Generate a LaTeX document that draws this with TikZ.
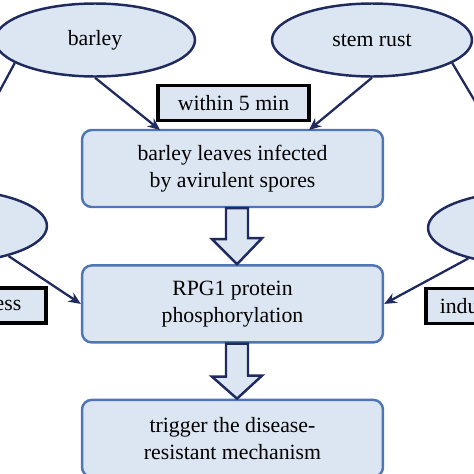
\documentclass[tikz,border=0pt]{standalone}
\usepackage{fontspec}
\setmainfont{Liberation Serif}
\usetikzlibrary{arrows.meta,positioning,shapes.geometric,calc}
\definecolor{paleblue}{HTML}{DCE6F2}
\definecolor{boxblue}{HTML}{4F75B5}
\definecolor{navy}{HTML}{1F2A5E}

\begin{document}
\begin{tikzpicture}[x=0.02cm, y=-0.02cm,
  every node/.style={font=\fontsize{12.4}{15.4}\selectfont},
  oval/.style={ellipse, draw=navy, line width=1.4pt, fill=paleblue,
               minimum width=4cm, minimum height=1.46cm},
  stage/.style={draw=boxblue, line width=1.4pt, fill=paleblue, rounded corners=5.5pt,
                minimum width=6.02cm, minimum height=1.54cm, align=center},
  tag/.style={draw=black, line width=2pt, fill=paleblue, minimum height=0.7cm, inner ysep=0pt},
  link/.style={draw=navy, line width=1.3pt, -{Stealth[length=7pt,width=6pt]}},
  fat/.style={draw=navy, line width=1.4pt, fill=paleblue, line join=miter},
  node distance=1.12cm]
  \path[use as bounding box] (0,0) rectangle (474,474);
  \clip (0,0) rectangle (474,474);

  % sources
  \node[oval] (barley) at (95,40) {barley};
  \node[oval] (stemrust) at (372,40) {stem rust};
  \node[oval] (leftoval) at (-53,226) {};
  \node[oval] (rightoval) at (528,228) {};

  % main chain
  \node[stage] (infect) at (232.5,168.5) {barley leaves infected\\ by avirulent spores};
  \node[stage, below=of infect] (phos) {RPG1 protein\\ phosphorylation};
  \node[stage, below=1.1cm of phos] (resist) {trigger the disease-\\ resistant mechanism};

  \coordinate (inleft) at (160,130);
  \coordinate (inright) at (309,130);
  \draw[link] (barley.south) -- (inleft);
  \draw[link] (stemrust.south) -- (inright);
  \draw[link] (barley.196) -- (leftoval.north);
  \draw[link] (stemrust.-16) -- (rightoval.north);
  \draw[link] (leftoval.-26) -- (phos.west);
  \draw[link] (rightoval.207) -- (phos.east);

  % block arrows
  \draw[fat] ($(infect.south)+(-6.5,0)$) -- ++(22,0) -- ++(0,30) -- ++(14,0)
    -- ($(phos.north)+(4.5,0)$) -- ++(-25,-25) -- ++(14,0) -- cycle;
  \draw[fat] ($(phos.south)+(-6.5,0)$) -- ++(22,0) -- ++(0,32) -- ++(14,0)
    -- ($(resist.north)+(4.5,0)$) -- ++(-25,-22) -- ++(14,0) -- cycle;

  % labels
  \node[tag, minimum width=3.02cm] (delay) at (233.5,103) {within 5 min};
  \node[tag, anchor=east, text width=1.5cm, align=right, inner xsep=0.5cm] (lefttag) at (48,305.5) {ess};
  \node[tag, anchor=west, text width=2cm, align=left, inner xsep=0.28cm] (righttag) at (424,306) {indu};
\end{tikzpicture}
\end{document}
